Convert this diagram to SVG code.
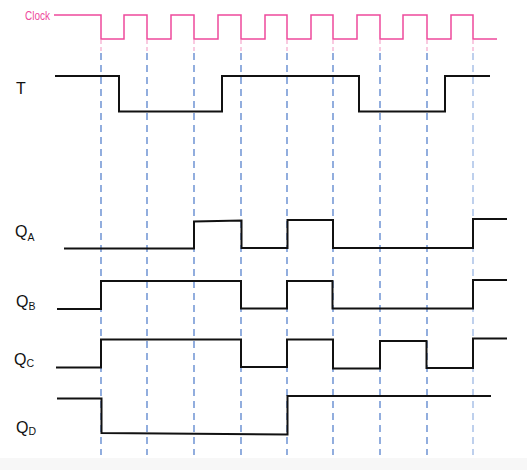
<svg xmlns="http://www.w3.org/2000/svg" width="527" height="470" viewBox="0 0 527 470">
<style>
.sig{fill:none;stroke:#111;stroke-width:2;stroke-linejoin:miter}
.clk{fill:none;stroke:#ee4a9c;stroke-width:1.5}
.fade{stroke:#f7b9d6;stroke-width:1.5;stroke-dasharray:4 3}
.grid{stroke:#4a78c8;stroke-width:1.2;stroke-dasharray:7 5}
.grid2{stroke:#a9c1e8;stroke-width:1.5;stroke-dasharray:7 5}
.lbl{font-family:"Liberation Sans",Arial,sans-serif;font-size:16px;fill:#111}
.sub{font-family:"Liberation Sans",Arial,sans-serif;font-size:10.5px;fill:#111}
.clab{font-family:"Liberation Sans",Arial,sans-serif;font-size:13px;fill:#ee4a9c}
</style>
<rect x="0" y="0" width="527" height="470" fill="#fff"/>
<rect x="0" y="458" width="527" height="12" fill="#f7f7f7"/>
<g id="connectors">
<g id="fades">
<line class="fade" x1="101" y1="40" x2="101" y2="51"/>
<line class="fade" x1="147" y1="40" x2="147" y2="51"/>
<line class="fade" x1="194" y1="40" x2="194" y2="51"/>
<line class="fade" x1="241" y1="40" x2="241" y2="51"/>
<line class="fade" x1="287" y1="40" x2="287" y2="51"/>
<line class="fade" x1="333" y1="40" x2="333" y2="51"/>
<line class="fade" x1="380" y1="40" x2="380" y2="51"/>
<line class="fade" x1="427" y1="40" x2="427" y2="51"/>
<line class="fade" x1="473" y1="40" x2="473" y2="51"/>
</g>
<line class="grid" x1="101" y1="53" x2="101" y2="455"/>
<line class="grid" x1="147" y1="53" x2="147" y2="455"/>
<line class="grid" x1="194" y1="53" x2="194" y2="455"/>
<line class="grid" x1="241" y1="53" x2="241" y2="455"/>
<line class="grid" x1="287" y1="53" x2="287" y2="455"/>
<line class="grid" x1="333" y1="53" x2="333" y2="455"/>
<line class="grid" x1="380" y1="53" x2="380" y2="455"/>
<line class="grid" x1="427" y1="53" x2="427" y2="455"/>
<line class="grid2" x1="473" y1="53" x2="473" y2="455"/>
</g>
<g id="clock">
<text class="clab" x="25" y="20" textLength="25" lengthAdjust="spacingAndGlyphs">Clock</text>
<path class="clk" d="M54 15H101V39H124V15H147V39H171V15H194V39H218V15H241V39H265V15H287V39H311V15H333V39H357V15H380V39H403V15H427V39H451V15H473V39H497"/>
</g>
<g id="T">
<text class="lbl" x="16" y="94">T</text>
<path class="sig" d="M55 76H119V111.5H222V76H359V111.5H445V76H490"/>
</g>
<g id="QA">
<text class="lbl" x="15" y="237">Q<tspan class="sub" dy="4">A</tspan></text>
<path class="sig" d="M64 248.5H194V221.5L241.5 220.5V248H287.5V220H333V248H473V219H507"/>
</g>
<g id="QB">
<text class="lbl" x="16" y="307">Q<tspan class="sub" dy="3">B</tspan></text>
<path class="sig" d="M57 309H101V281H241V308.5H287V281H332.5V308.5H473V280H507"/>
</g>
<g id="QC">
<text class="lbl" x="14" y="365">Q<tspan class="sub" dy="2">C</tspan></text>
<path class="sig" d="M56 367.5H101V339.5H241V367H287V339.5H333V368.5H380V341H426.5V368H473V338.5H507"/>
</g>
<g id="QD">
<text class="lbl" x="16" y="433">Q<tspan class="sub" dy="2">D</tspan></text>
<path class="sig" d="M57 398.5H101.5V433L287.5 434.5V396H491"/>
</g>
</svg>
